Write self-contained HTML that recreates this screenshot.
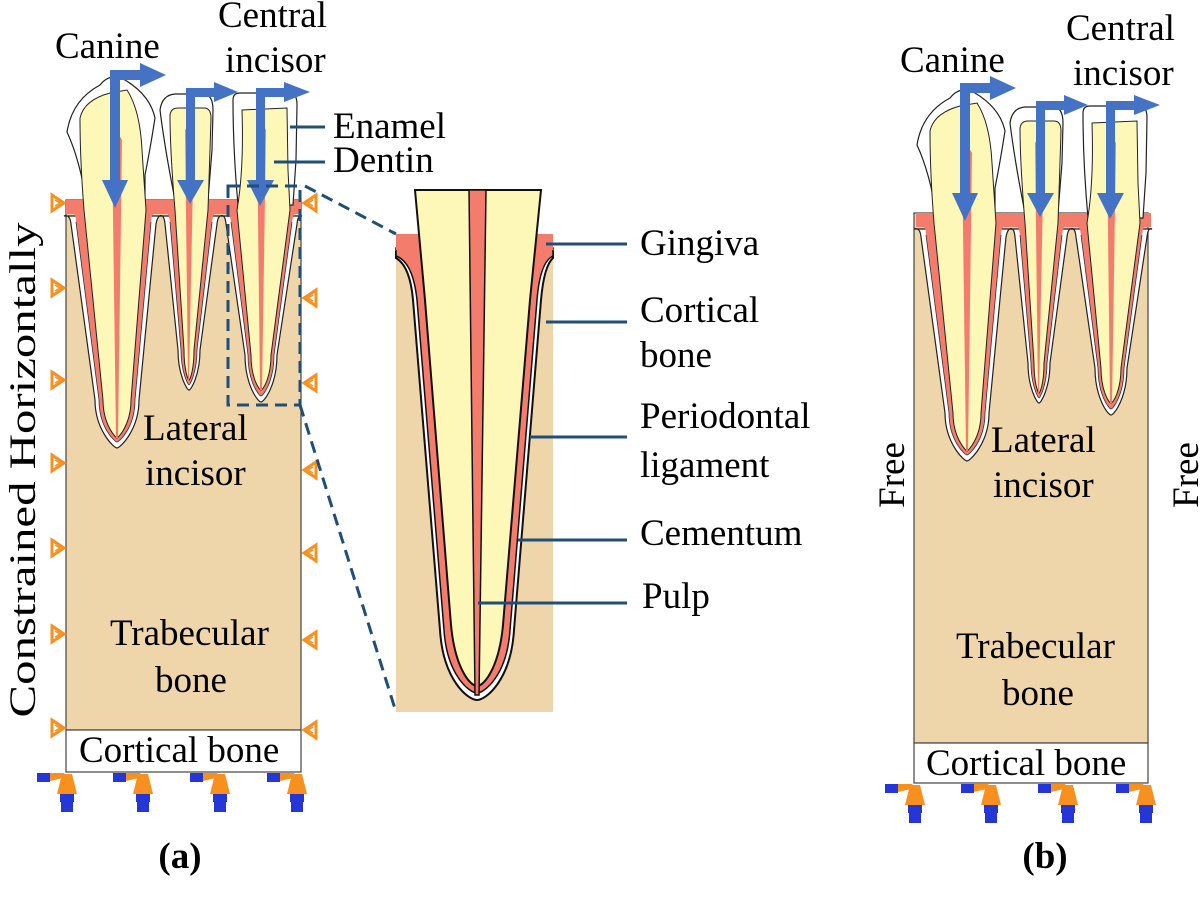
<!DOCTYPE html>
<html><head><meta charset="utf-8"><style>html,body{margin:0;padding:0;background:#fff}svg{display:block}text{font-family:"Liberation Serif",serif;font-size:37px;fill:#000}</style></head><body>
<svg width="1200" height="898" viewBox="0 0 1200 898" xmlns="http://www.w3.org/2000/svg">
<defs>
<g id="tri"><path d="M0,-8 L12,0 L0,8 Z" fill="none" stroke="#f7901e" stroke-width="3"/><path d="M3,-3 L8,0 L3,3" fill="none" stroke="#f7901e" stroke-width="1.5"/></g>
<g id="trir"><path d="M0,-8 L-12,0 L0,8 Z" fill="none" stroke="#f7901e" stroke-width="3"/><path d="M-3,-3 L-8,0 L-3,3" fill="none" stroke="#f7901e" stroke-width="1.5"/></g>
<g id="sup">
<rect x="-30" y="1" width="13" height="9" fill="#2436d6"/><path d="M-17,1 L-3,1 L0,5 L-17,9 Z" fill="#f7901e"/>
<path d="M-5,2 L5,2 L10,22 L-10,22 Z" fill="#f7901e"/>
<rect x="-7" y="22" width="14" height="8" fill="#2436d6"/><rect x="-6" y="30" width="12" height="10" fill="#2436d6"/>
</g>
<g id="teeth">
<rect x="66" y="200" width="235" height="14" fill="#f47c6c"/>
<!-- canine socket -->
<path d="M64,216 Q70,214 71,224 L95,400 C95,430 114,448 117,448 C120,448 139,430 139,400 L156,224 Q158,214 162,216 Z" fill="#fff" stroke="#222" stroke-width="1.2"/>
<path d="M66,200 L72,212 Q76,214 76,222 L99,400 C99,428 115,442 117,442 C119,442 135,428 135,400 L151,222 Q151,214 156,212 L160,200 Z" fill="#f47c6c"/>
<path d="M76,222 L99,400 C99,428 115,442 117,442 C119,442 135,428 135,400 L151,222" fill="none" stroke="#333" stroke-width="0.8"/>
<!-- lateral socket -->
<path d="M160,216 Q164,214 165,224 L178,350 C178,375 187,390 189,390 C191,390 200,375 200,350 L217,224 Q218,214 223,216 Z" fill="#fff" stroke="#222" stroke-width="1.2"/>
<path d="M162,200 L166,212 Q169,214 170,222 L181,350 C181,372 188,385 189,385 C190,385 197,372 197,350 L212,222 Q213,214 216,212 L220,200 Z" fill="#f47c6c"/>
<path d="M170,222 L181,350 C181,372 188,385 189,385 C190,385 197,372 197,350 L212,222" fill="none" stroke="#333" stroke-width="0.8"/>
<!-- central socket -->
<path d="M221,216 Q225,214 226,224 L245,355 C245,385 258,402 261,402 C264,402 277,385 277,355 L297,224 Q298,214 302,216 Z" fill="#fff" stroke="#222" stroke-width="1.2"/>
<path d="M223,200 L227,212 Q230,214 231,222 L248,355 C248,382 259,396 261,396 C263,396 274,382 274,355 L292,222 Q293,214 296,212 L301,200 Z" fill="#f47c6c"/>
<path d="M231,222 L248,355 C248,382 259,396 261,396 C263,396 274,382 274,355 L292,222" fill="none" stroke="#333" stroke-width="0.8"/>
<!-- canine crown/root -->
<path d="M67,132 Q72,100 100,85 Q110,72 125,80 Q150,95 155,118 Q150,150 145,175 L145,205 L87,205 Q80,160 67,132 Z" fill="#fff" stroke="#222" stroke-width="1.2"/>
<path d="M80,118 Q84,100 110,93 L127,90 Q140,110 142,150 L146,210 L131,400 C131,425 118,438 117,438 C116,438 103,425 103,400 L84,210 Q80,160 80,118 Z" fill="#fdf7b8" stroke="#222" stroke-width="1"/>
<path d="M112,140 Q117,130 122,140 L118,438 L116,438 Z" fill="#f47c6c"/>
<!-- lateral crown/root -->
<path d="M160,110 Q162,95 175,94 L205,94 Q213,96 213,110 L212,150 L208,200 L175,200 Q165,150 160,110 Z" fill="#fff" stroke="#222" stroke-width="1.2"/>
<path d="M170,115 Q171,108 178,108 L204,108 Q211,108 211,118 L210,150 L208,210 L194,350 C194,370 190,380 189,380 C188,380 184,370 184,350 L175,210 Q170,150 170,115 Z" fill="#fdf7b8" stroke="#222" stroke-width="1"/>
<path d="M185,130 Q190,122 194,130 L189,380 L188,380 Z" fill="#f47c6c"/>
<!-- central crown/root -->
<path d="M233,100 Q233,93 240,93 L290,93 Q297,93 297,105 L296,160 L293,205 L238,205 Q233,150 233,100 Z" fill="#fff" stroke="#222" stroke-width="1.2"/>
<path d="M242,110 L287,108 L288,170 L290,210 L271,355 C271,378 263,390 261,390 C259,390 251,378 251,355 L237,210 Q244,170 242,110 Z" fill="#fdf7b8" stroke="#222" stroke-width="1"/>
<path d="M257,130 Q262,122 266,130 L262,390 L260,390 Z" fill="#f47c6c"/>
<!-- arrows -->
<g fill="#4472c4">
<rect x="110" y="70" width="10" height="112"/><path d="M102,180 L128,180 L115,208 Z"/>
<rect x="110" y="70" width="32" height="10"/><path d="M140,63 L166,75 L140,87 Z"/>
<rect x="186" y="88" width="9" height="94"/><path d="M177,180 L204,180 L190,204 Z"/>
<rect x="186" y="88" width="30" height="9"/><path d="M214,82 L238,92 L214,102 Z"/>
<rect x="256" y="88" width="9" height="94"/><path d="M247,180 L274,180 L260,206 Z"/>
<rect x="256" y="88" width="30" height="9"/><path d="M284,82 L310,92 L284,102 Z"/>
</g>
</g>
</defs>

<!-- (a) box -->
<rect x="66" y="200" width="235" height="530" fill="#efd5aa" stroke="#444" stroke-width="1.2"/>
<rect x="66" y="730" width="235" height="42" fill="#fff" stroke="#444" stroke-width="1.2"/>
<use href="#teeth"/>

<!-- (b) box -->
<rect x="914" y="213" width="234" height="530" fill="#efd5aa" stroke="#444" stroke-width="1.2"/>
<rect x="914" y="743" width="234" height="40" fill="#fff" stroke="#444" stroke-width="1.2"/>
<use href="#teeth" transform="translate(850,13)"/>

<!-- constraints (a) -->
<use href="#tri" x="52" y="203"/><use href="#tri" x="52" y="288"/><use href="#tri" x="52" y="380"/><use href="#tri" x="52" y="463"/><use href="#tri" x="52" y="548"/><use href="#tri" x="52" y="634"/><use href="#tri" x="52" y="728"/>
<use href="#trir" x="316" y="203"/><use href="#trir" x="316" y="298"/><use href="#trir" x="316" y="383"/><use href="#trir" x="316" y="470"/><use href="#trir" x="316" y="553"/><use href="#trir" x="316" y="640"/><use href="#trir" x="316" y="730"/>
<use href="#sup" x="67" y="772"/><use href="#sup" x="143" y="772"/><use href="#sup" x="220" y="772"/><use href="#sup" x="297" y="772"/>
<use href="#sup" x="915" y="783"/><use href="#sup" x="991" y="783"/><use href="#sup" x="1068" y="783"/><use href="#sup" x="1146" y="783"/>

<!-- dashed box & zoom lines -->
<g stroke="#1f4e79" stroke-width="3" fill="none" stroke-dasharray="12,7">
<rect x="228" y="186" width="72" height="219"/>
<line x1="305" y1="186" x2="396" y2="234"/>
<line x1="300" y1="405" x2="396" y2="712"/>
</g>

<!-- inset -->
<rect x="396" y="234" width="157" height="478" fill="#efd5aa"/>
<rect x="396" y="234" width="157" height="22" fill="#f47c6c"/>
<path d="M396,258 Q410,266 413,300 L440,630 C443,680 468,700 477,700 C486,700 511,680 514,630 L541,300 Q544,266 553,258 L553,252 L396,252 Z" fill="#fff" stroke="#111" stroke-width="2"/>
<path d="M396,248 L553,248 L553,256 Q540,262 537,300 L510,630 C507,676 484,693 477,693 C470,693 447,676 444,630 L417,300 Q413,262 396,256 Z" fill="#f47c6c" stroke="#111" stroke-width="1.5"/>
<path d="M396,234 L553,234 L553,250 L396,250 Z" fill="#f47c6c"/>
<path d="M415,190 L541,190 L530,300 L503,625 C499,668 484,686 477,686 C470,686 455,668 451,625 L425,300 Z" fill="#fdf7b8" stroke="#111" stroke-width="2"/>
<path d="M469,190 L486,190 L479,695 L475,695 Z" fill="#f47c6c" stroke="#111" stroke-width="1.5"/>

<!-- leaders -->
<g stroke="#1f4e79" stroke-width="3">
<line x1="290" y1="127" x2="325" y2="127"/>
<line x1="274" y1="162" x2="325" y2="162"/>
<line x1="546" y1="244" x2="627" y2="244"/>
<line x1="546" y1="322" x2="627" y2="322"/>
<line x1="530" y1="437" x2="627" y2="437"/>
<line x1="518" y1="540" x2="627" y2="540"/>
<line x1="478" y1="603" x2="627" y2="603"/>
</g>

<!-- text (a) -->
<text x="55" y="58">Canine</text>
<text x="218" y="27">Central</text>
<text x="225" y="72">incisor</text>
<text x="333" y="138">Enamel</text>
<text x="333" y="172">Dentin</text>
<text x="143" y="440">Lateral</text>
<text x="145" y="485">incisor</text>
<text x="110" y="645">Trabecular</text>
<text x="155" y="692">bone</text>
<text x="79" y="762" font-size="34">Cortical bone</text>
<text x="35" y="470" transform="rotate(-90 35 470)" text-anchor="middle" textLength="495" lengthAdjust="spacingAndGlyphs">Constrained Horizontally</text>
<text x="180" y="868" font-weight="bold" text-anchor="middle">(a)</text>

<text x="640" y="255">Gingiva</text>
<text x="640" y="322">Cortical</text>
<text x="640" y="367">bone</text>
<text x="640" y="428">Periodontal</text>
<text x="640" y="477">ligament</text>
<text x="640" y="545">Cementum</text>
<text x="642" y="608">Pulp</text>

<!-- text (b) -->
<text x="900" y="72">Canine</text>
<text x="1066" y="40">Central</text>
<text x="1073" y="85">incisor</text>
<text x="991" y="452">Lateral</text>
<text x="993" y="497">incisor</text>
<text x="956" y="658">Trabecular</text>
<text x="1002" y="705">bone</text>
<text x="926" y="775" font-size="34">Cortical bone</text>
<text x="904" y="475" transform="rotate(-90 904 475)" text-anchor="middle" font-size="40">Free</text>
<text x="1198" y="475" transform="rotate(-90 1198 475)" text-anchor="middle" font-size="40">Free</text>
<text x="1045" y="868" font-weight="bold" text-anchor="middle">(b)</text>
</svg>
</body></html>
